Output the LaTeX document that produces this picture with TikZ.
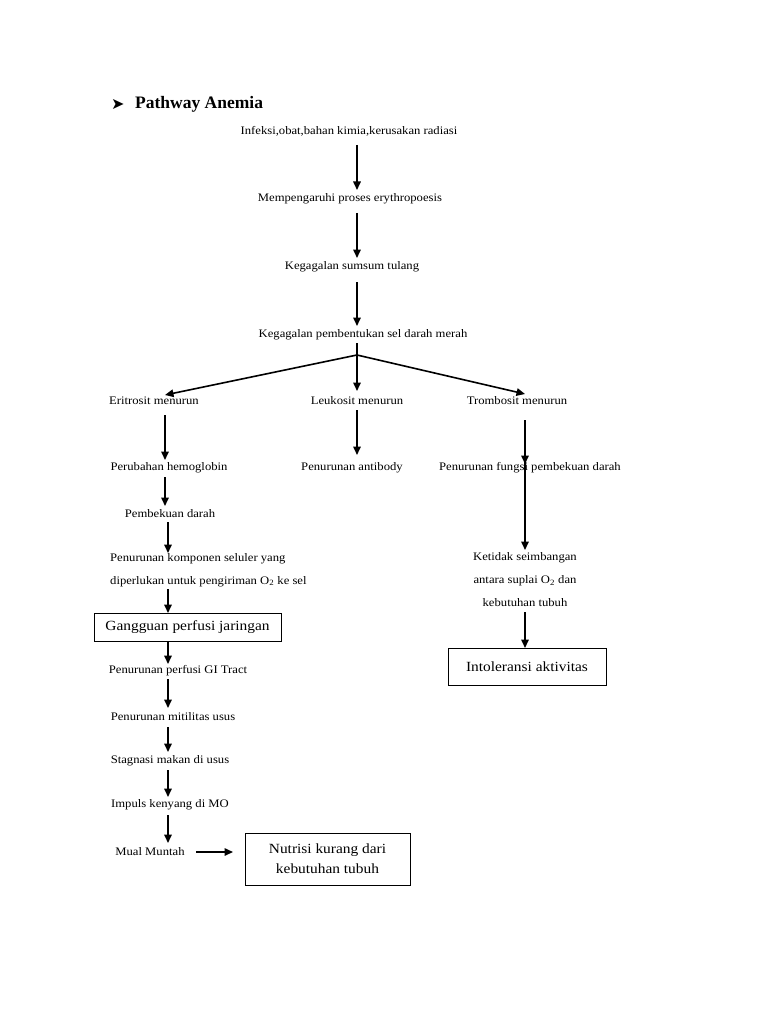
\documentclass[tikz,border=0pt]{standalone}
\usepackage{fontspec}
\setmainfont{Liberation Serif}
\newfontfamily\widefont[FakeStretch=1.1]{Liberation Serif}
\newfontfamily\symfont{DejaVu Sans}
\usetikzlibrary{arrows.meta,positioning,calc}
\begin{document}
\begin{tikzpicture}[x=1pt,y=-1pt,
  lbl/.style={inner sep=1pt,font=\widefont\fontsize{11.5}{23}\selectfont},
  lbll/.style={lbl,align=left},
  lblc/.style={lbl,align=center},
  boxnode/.style={draw,line width=0.8pt,inner sep=0pt,font=\widefont\fontsize{14}{20}\selectfont,align=center},
  arr/.style={line width=1.6pt,-{Triangle[width=7.5pt,length=8.5pt]}}
]
\useasboundingbox (0,0) rectangle (768,1024);
% title
\node[anchor=west,inner sep=0pt,font=\symfont\fontsize{16}{17}\selectfont] (bul) at (111,104) {➤};
\node[anchor=west,inner sep=0pt,font=\bfseries\fontsize{17.5}{20}\selectfont] (title) at (135,104) {Pathway Anemia};
% main chain
\node[lbl] (t1) at (349,131) {Infeksi,obat,bahan kimia,kerusakan radiasi};
\node[lbl] (t2) at (350,199) {Mempengaruhi proses erythropoesis};
\node[lbl] (t3) at (352,267) {Kegagalan sumsum tulang};
\node[lbl] (t4) at (363,335) {Kegagalan pembentukan sel darah merah};
\coordinate (j) at (357,355);
\node[lbl] (eri) at (154,401) {Eritrosit menurun};
\node[lbl] (leu) at (357,401) {Leukosit menurun};
\node[lbl] (tro) at (517,401) {Trombosit menurun};
% left branch
\node[lbl] (hb) at (169,468) {Perubahan hemoglobin};
\node[lbl] (pd) at (170,514) {Pembekuan darah};
\node[lbll,anchor=north west] (komp) at (109,552) {Penurunan komponen seluler yang\\diperlukan untuk pengiriman O\textsubscript{2} ke sel};
\node[boxnode,minimum width=187pt,minimum height=28pt] (gpj) at (187.5,627) {Gangguan perfusi jaringan};
\node[lbl] (gi) at (178,671) {Penurunan perfusi GI Tract};
\node[lbl] (mot) at (173,717) {Penurunan mitilitas usus};
\node[lbl] (stag) at (170,761) {Stagnasi makan di usus};
\node[lbl] (imp) at (170,805) {Impuls kenyang di MO};
\node[lbl] (mual) at (150,852) {Mual Muntah};
\node[boxnode,minimum width=165pt,minimum height=52pt] (nut) at (327.5,859) {Nutrisi kurang dari\\kebutuhan tubuh};
% middle
\node[lbl] (ab) at (352,468) {Penurunan antibody};
% right branch
\node[lbl] (fung) at (530,468) {Penurunan fungsi pembekuan darah};
\node[lblc] (ket) at (525,580) {Ketidak seimbangan\\antara suplai O\textsubscript{2} dan\\kebutuhan tubuh};
\node[boxnode,minimum width=158pt,minimum height=37pt] (into) at (527,666.5) {Intoleransi aktivitas};
% connectors
\draw[arr] (357,145) -- (357,190);
\draw[arr] (357,213) -- (357,258);
\draw[arr] (357,282) -- (357,326);
\draw[line width=1.6pt] (357,343) -- (j);
\draw[arr] (j) -- (165,395);
\draw[arr] (j) -- (357,391);
\draw[arr] (j) -- (525,394);
\draw[arr] (165,415) -- (165,460);
\draw[arr] (357,410) -- (357,455);
\draw[arr] (525,420) -- (525,464);
\draw[arr] (525,462) -- (525,550);
\draw[arr] (165,477) -- (165,506);
\draw[arr] (168,522) -- (168,553);
\draw[arr] (168,589) -- (168,613);
\draw[arr] (168,641) -- (168,664);
\draw[arr] (168,679) -- (168,708);
\draw[arr] (168,727) -- (168,752);
\draw[arr] (168,770) -- (168,797);
\draw[arr] (168,815) -- (168,843);
\draw[arr] (196,852) -- (233,852);
\draw[arr] (525,612) -- (525,648);
\end{tikzpicture}
\end{document}
